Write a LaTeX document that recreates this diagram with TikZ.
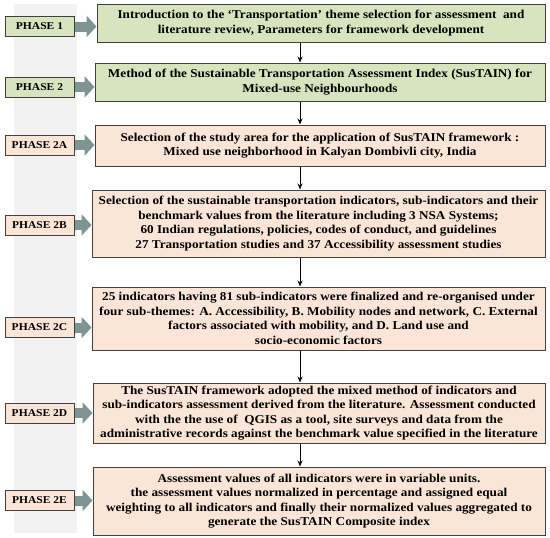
\documentclass[tikz,border=0pt]{standalone}
\usepackage{fontspec}
\setmainfont{Liberation Serif}[FakeStretch=1.1]
\usetikzlibrary{arrows.meta,calc}
\definecolor{grn}{HTML}{D7E4BD}
\definecolor{pch}{HTML}{FBE5D6}
\definecolor{edge}{HTML}{404040}
\definecolor{barrow}{HTML}{7D9592}
\definecolor{colbg}{HTML}{F2F2F2}
\begin{document}
\begin{tikzpicture}[x=1pt,y=-1pt,
  mainbox/.style={draw=edge,line width=1pt,align=center,inner sep=1pt,
    font=\fontsize{12}{14.6}\selectfont\bfseries},
  phasebox/.style={draw=edge,line width=1pt,minimum width=69,minimum height=20,inner sep=0pt,
    font=\fontsize{10.5}{12}\selectfont\bfseries},
  blockarrow/.style={barrow,line width=10pt,-{Triangle[width=21pt,length=10pt]}},
  vline/.style={black,line width=1pt,-{Stealth[length=6pt,width=5pt]}}]
\useasboundingbox (0,0) rectangle (550,538);
\fill[colbg] (14,4) rectangle (77,533);
\coordinate (ax) at (300,0);
% main boxes
\node[mainbox,fill=grn,minimum width=448,minimum height=38] (b1) at (321,23)
 {Introduction to the ‘Transportation’ theme selection for assessment\ \ and\\literature review, Parameters for framework development};
\node[mainbox,fill=grn,minimum width=450,minimum height=38] (b2) at (320,82)
 {Method of the Sustainable Transportation Assessment Index (SusTAIN) for\\Mixed-use Neighbourhoods};
\node[mainbox,fill=pch,minimum width=450,minimum height=41] (b2a) at (320,145.5)
 {Selection of the study area for the application of SusTAIN framework :\\Mixed use neighborhood in Kalyan Dombivli city, India};
\node[mainbox,fill=pch,minimum width=453,minimum height=67] (b2b) at (318.5,223.5)
 {Selection of the sustainable transportation indicators, sub-indicators and their\\benchmark values from the literature including 3 NSA Systems;\\60 Indian regulations, policies, codes of conduct, and guidelines\\27 Transportation studies and 37 Accessibility assessment studies};
\node[mainbox,fill=pch,minimum width=453,minimum height=63] (b2c) at (318.5,318.5)
 {25 indicators having 81 sub-indicators were finalized and re-organised under\\four sub-themes: A. Accessibility, B. Mobility nodes and network, C. External\\factors associated with mobility, and D. Land use and\\socio-economic factors};
\node[mainbox,fill=pch,minimum width=452,minimum height=60] (b2d) at (319,413)
 {The SusTAIN framework adopted the mixed method of indicators and\\sub-indicators assessment derived from the literature. Assessment conducted\\with the the use of\ \ QGIS as a tool, site surveys and data from the\\administrative records against the benchmark value specified in the literature};
\node[mainbox,fill=pch,minimum width=452,minimum height=68] (b2e) at (319,501)
 {Assessment values of all indicators were in variable units.\\the assessment values normalized in percentage and assigned equal\\weighting to all indicators and finally their normalized values aggregated to\\generate the SusTAIN Composite index};
% phase labels
\node[phasebox,fill=grn] (p1) at (39.5,26.5) {PHASE 1};
\node[phasebox,fill=grn] (p2) at (39.5,87) {PHASE 2};
\node[phasebox,fill=pch] (p2a) at (39.5,145) {PHASE 2A};
\node[phasebox,fill=pch] (p2b) at (39.5,225) {PHASE 2B};
\node[phasebox,fill=pch] (p2c) at (39.5,327.5) {PHASE 2C};
\node[phasebox,fill=pch] (p2d) at (39.5,413) {PHASE 2D};
\node[phasebox,fill=pch] (p2e) at (39.5,500.5) {PHASE 2E};
% block arrows
\foreach \p/\b in {p1/b1,p2/b2,p2a/b2a,p2b/b2b,p2c/b2c,p2d/b2d,p2e/b2e}
  \draw[blockarrow] (\p.east) -- (\p.east -| \b.west);
% vertical arrows
\foreach \a/\b in {b1/b2,b2/b2a,b2a/b2b,b2b/b2c,b2c/b2d,b2d/b2e}
  \draw[vline] (\a.south -| ax) -- (\b.north -| ax);
\end{tikzpicture}
\end{document}
